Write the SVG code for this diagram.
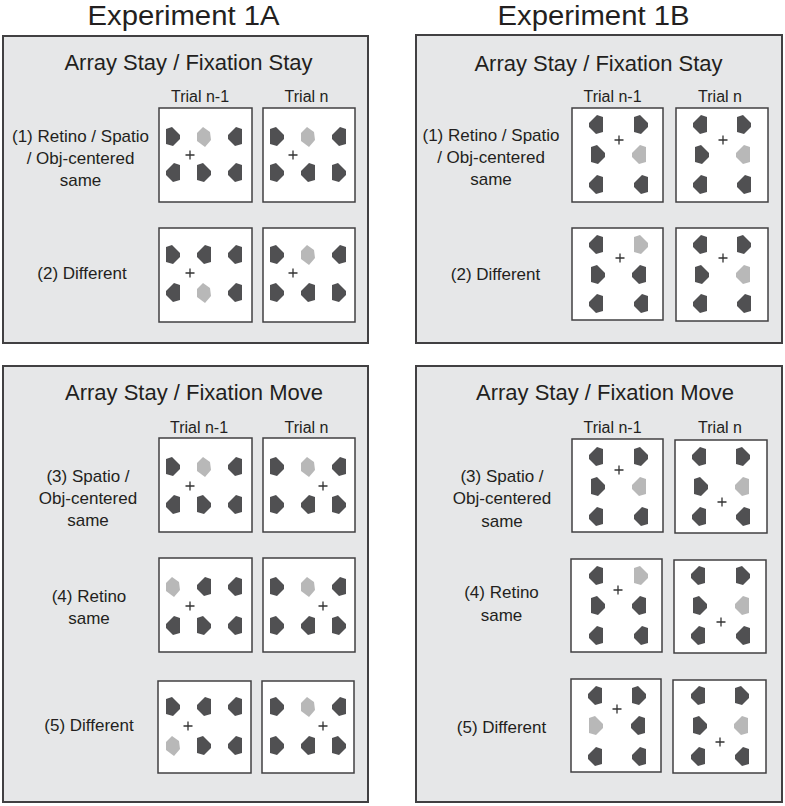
<svg xmlns="http://www.w3.org/2000/svg" xmlns:xlink="http://www.w3.org/1999/xlink" width="785" height="806" viewBox="0 0 785 806">
<style>
.bg{fill:#ffffff}
.panel{fill:#e6e7e8;stroke:#414042;stroke-width:2}
.box{fill:#ffffff;stroke:#414042;stroke-width:1.5}
.t{font-family:"Liberation Sans",Arial,sans-serif;fill:#231f20;text-anchor:middle}
.h1{font-size:27px}
.h2{font-size:22px}
.tr{font-size:16px}
.lb{font-size:17px}
.d{fill:#505052}
.l{fill:#b8b8b8}
.fx{stroke:#333333;stroke-width:1.3;fill:none}
</style>
<defs>
<polygon id="sR" points="-7,-8 -1,-10 7,-2 7,2 0,9 -7,7"/>
<polygon id="sL" points="7,-8 1,-10 -7,-2 -7,2 0,9 7,7"/>
<polygon id="sH" points="-1,-10 6,-5 7,3 1,10 -7,4 -7,-4"/>
<path id="fx" d="M-4.5,0 H4.5 M0,-4.5 V4.5"/>
</defs>
<rect class="bg" x="0" y="0" width="785" height="806"/>

<text class="t h1" x="183.5" y="25" textLength="192" lengthAdjust="spacingAndGlyphs">Experiment 1A</text>
<text class="t h1" x="593.5" y="25" textLength="192" lengthAdjust="spacingAndGlyphs">Experiment 1B</text>

<!-- Experiment 1A, Array Stay / Fixation Stay -->
<g id="panel-1A-stay">
<rect class="panel" x="3" y="36" width="365" height="307"/>
<text class="t h2" x="188.5" y="70">Array Stay / Fixation Stay</text>
<text class="t tr" x="200" y="101.5">Trial n-1</text>
<text class="t tr" x="306.5" y="101.5">Trial n</text>
<text class="t lb" x="80.5" y="142">(1) Retino / Spatio</text>
<text class="t lb" x="80.5" y="164">/ Obj-centered</text>
<text class="t lb" x="80.5" y="186">same</text>
<text class="t lb" x="82" y="279">(2) Different</text>
</g>
<g id="A1-prev" transform="translate(159,108)">
<rect class="box" x="0" y="0" width="93" height="94"/>
<use href="#sR" class="d" x="14" y="29"/><use href="#sH" class="l" x="45" y="29"/><use href="#sL" class="d" x="76" y="29"/>
<use href="#sL" class="d" x="14" y="65"/><use href="#sR" class="d" x="45" y="65"/><use href="#sL" class="d" x="76" y="65"/>
<use href="#fx" class="fx" x="31" y="47"/>
</g>
<g id="A1-cur" transform="translate(263,108)">
<rect class="box" x="0" y="0" width="92" height="94"/>
<use href="#sR" class="d" x="14" y="29"/><use href="#sH" class="l" x="45" y="29"/><use href="#sL" class="d" x="76" y="29"/>
<use href="#sR" class="d" x="14" y="65"/><use href="#sL" class="d" x="45" y="65"/><use href="#sR" class="d" x="76" y="65"/>
<use href="#fx" class="fx" x="30" y="47"/>
</g>
<g id="A2-prev" transform="translate(159,228)">
<rect class="box" x="0" y="0" width="93" height="94"/>
<use href="#sR" class="d" x="14" y="27"/><use href="#sL" class="d" x="45" y="27"/><use href="#sL" class="d" x="76" y="27"/>
<use href="#sL" class="d" x="14" y="65"/><use href="#sH" class="l" x="45" y="65"/><use href="#sL" class="d" x="76" y="65"/>
<use href="#fx" class="fx" x="31" y="45"/>
</g>
<g id="A2-cur" transform="translate(263,228)">
<rect class="box" x="0" y="0" width="92" height="94"/>
<use href="#sR" class="d" x="14" y="27"/><use href="#sH" class="l" x="45" y="27"/><use href="#sL" class="d" x="76" y="27"/>
<use href="#sR" class="d" x="14" y="65"/><use href="#sL" class="d" x="45" y="65"/><use href="#sR" class="d" x="76" y="65"/>
<use href="#fx" class="fx" x="30" y="45"/>
</g>

<!-- Experiment 1A, Array Stay / Fixation Move -->
<g id="panel-1A-move">
<rect class="panel" x="3" y="366" width="365" height="436"/>
<text class="t h2" x="194" y="400">Array Stay / Fixation Move</text>
<text class="t tr" x="199" y="433">Trial n-1</text>
<text class="t tr" x="306.5" y="433">Trial n</text>
<text class="t lb" x="88" y="482">(3) Spatio /</text>
<text class="t lb" x="88" y="504">Obj-centered</text>
<text class="t lb" x="88" y="526">same</text>
<text class="t lb" x="89" y="602">(4) Retino</text>
<text class="t lb" x="89" y="624">same</text>
<text class="t lb" x="89" y="731">(5) Different</text>
</g>
<g id="A3-prev" transform="translate(159,438)">
<rect class="box" x="0" y="0" width="93" height="94"/>
<use href="#sR" class="d" x="14" y="29"/><use href="#sH" class="l" x="45" y="29"/><use href="#sL" class="d" x="76" y="29"/>
<use href="#sL" class="d" x="14" y="67"/><use href="#sR" class="d" x="45" y="67"/><use href="#sL" class="d" x="76" y="67"/>
<use href="#fx" class="fx" x="31" y="48"/>
</g>
<g id="A3-cur" transform="translate(263,438)">
<rect class="box" x="0" y="0" width="92" height="94"/>
<use href="#sR" class="d" x="14" y="29"/><use href="#sH" class="l" x="45" y="29"/><use href="#sL" class="d" x="76" y="29"/>
<use href="#sR" class="d" x="14" y="67"/><use href="#sL" class="d" x="45" y="67"/><use href="#sR" class="d" x="76" y="67"/>
<use href="#fx" class="fx" x="60" y="48"/>
</g>
<g id="A4-prev" transform="translate(159,558)">
<rect class="box" x="0" y="0" width="93" height="94"/>
<use href="#sH" class="l" x="14" y="29"/><use href="#sL" class="d" x="45" y="29"/><use href="#sL" class="d" x="76" y="29"/>
<use href="#sL" class="d" x="14" y="68"/><use href="#sR" class="d" x="45" y="68"/><use href="#sL" class="d" x="76" y="68"/>
<use href="#fx" class="fx" x="31" y="48"/>
</g>
<g id="A4-cur" transform="translate(263,558)">
<rect class="box" x="0" y="0" width="92" height="94"/>
<use href="#sR" class="d" x="14" y="29"/><use href="#sH" class="l" x="45" y="29"/><use href="#sL" class="d" x="76" y="29"/>
<use href="#sR" class="d" x="14" y="68"/><use href="#sL" class="d" x="45" y="68"/><use href="#sR" class="d" x="76" y="68"/>
<use href="#fx" class="fx" x="60" y="48"/>
</g>
<g id="A5-prev" transform="translate(158,681)">
<rect class="box" x="0" y="0" width="93" height="92"/>
<use href="#sR" class="d" x="15" y="26"/><use href="#sL" class="d" x="46" y="26"/><use href="#sL" class="d" x="77" y="26"/>
<use href="#sH" class="l" x="15" y="65"/><use href="#sR" class="d" x="46" y="65"/><use href="#sL" class="d" x="77" y="65"/>
<use href="#fx" class="fx" x="30" y="45"/>
</g>
<g id="A5-cur" transform="translate(262,681)">
<rect class="box" x="0" y="0" width="92" height="92"/>
<use href="#sR" class="d" x="15" y="26"/><use href="#sH" class="l" x="46" y="26"/><use href="#sL" class="d" x="77" y="26"/>
<use href="#sR" class="d" x="15" y="65"/><use href="#sL" class="d" x="46" y="65"/><use href="#sR" class="d" x="77" y="65"/>
<use href="#fx" class="fx" x="61" y="45"/>
</g>

<!-- Experiment 1B, Array Stay / Fixation Stay -->
<g id="panel-1B-stay">
<rect class="panel" x="416" y="35" width="366" height="308"/>
<text class="t h2" x="598.5" y="71">Array Stay / Fixation Stay</text>
<text class="t tr" x="612.5" y="101.5">Trial n-1</text>
<text class="t tr" x="720" y="101.5">Trial n</text>
<text class="t lb" x="491" y="141">(1) Retino / Spatio</text>
<text class="t lb" x="491" y="163">/ Obj-centered</text>
<text class="t lb" x="491" y="185">same</text>
<text class="t lb" x="495.5" y="280">(2) Different</text>
</g>
<g id="B1-prev" transform="translate(572,108)">
<rect class="box" x="0" y="0" width="91" height="94"/>
<use href="#sL" class="d" x="24" y="17"/><use href="#sR" class="d" x="69" y="17"/>
<use href="#sR" class="d" x="26" y="47"/><use href="#sL" class="l" x="67" y="47"/>
<use href="#sL" class="d" x="24" y="77"/><use href="#sL" class="d" x="69" y="77"/>
<use href="#fx" class="fx" x="47" y="32"/>
</g>
<g id="B1-cur" transform="translate(676,108)">
<rect class="box" x="0" y="0" width="92" height="94"/>
<use href="#sL" class="d" x="24" y="17"/><use href="#sR" class="d" x="68" y="17"/>
<use href="#sR" class="d" x="26" y="47"/><use href="#sL" class="l" x="67" y="47"/>
<use href="#sL" class="d" x="24" y="77"/><use href="#sL" class="d" x="68" y="77"/>
<use href="#fx" class="fx" x="47" y="32"/>
</g>
<g id="B2-prev" transform="translate(572,228)">
<rect class="box" x="0" y="0" width="91" height="92"/>
<use href="#sL" class="d" x="24" y="17"/><use href="#sR" class="l" x="69" y="17"/>
<use href="#sR" class="d" x="26" y="47"/><use href="#sL" class="d" x="67" y="47"/>
<use href="#sL" class="d" x="24" y="76"/><use href="#sL" class="d" x="69" y="76"/>
<use href="#fx" class="fx" x="48" y="30"/>
</g>
<g id="B2-cur" transform="translate(676,228)">
<rect class="box" x="0" y="0" width="92" height="93"/>
<use href="#sL" class="d" x="24" y="17"/><use href="#sR" class="d" x="68" y="17"/>
<use href="#sR" class="d" x="26" y="47"/><use href="#sL" class="l" x="67" y="47"/>
<use href="#sL" class="d" x="24" y="76"/><use href="#sL" class="d" x="68" y="76"/>
<use href="#fx" class="fx" x="47" y="30"/>
</g>

<!-- Experiment 1B, Array Stay / Fixation Move -->
<g id="panel-1B-move">
<rect class="panel" x="416" y="366" width="366" height="436"/>
<text class="t h2" x="605" y="400">Array Stay / Fixation Move</text>
<text class="t tr" x="612.5" y="433">Trial n-1</text>
<text class="t tr" x="720" y="433">Trial n</text>
<text class="t lb" x="502" y="482">(3) Spatio /</text>
<text class="t lb" x="502" y="504">Obj-centered</text>
<text class="t lb" x="502" y="527">same</text>
<text class="t lb" x="501.5" y="598">(4) Retino</text>
<text class="t lb" x="501.5" y="621">same</text>
<text class="t lb" x="501.5" y="733">(5) Different</text>
</g>
<g id="B3-prev" transform="translate(572,439)">
<rect class="box" x="0" y="0" width="91" height="93"/>
<use href="#sL" class="d" x="24" y="18"/><use href="#sR" class="d" x="69" y="18"/>
<use href="#sR" class="d" x="26" y="48"/><use href="#sL" class="l" x="67" y="48"/>
<use href="#sL" class="d" x="24" y="78"/><use href="#sL" class="d" x="69" y="78"/>
<use href="#fx" class="fx" x="47" y="31"/>
</g>
<g id="B3-cur" transform="translate(675,440)">
<rect class="box" x="0" y="0" width="92" height="93"/>
<use href="#sL" class="d" x="24" y="17"/><use href="#sR" class="d" x="68" y="17"/>
<use href="#sR" class="d" x="26" y="47"/><use href="#sL" class="l" x="67" y="47"/>
<use href="#sL" class="d" x="24" y="77"/><use href="#sL" class="d" x="68" y="77"/>
<use href="#fx" class="fx" x="47" y="62"/>
</g>
<g id="B4-prev" transform="translate(571,559)">
<rect class="box" x="0" y="0" width="91" height="93"/>
<use href="#sL" class="d" x="25" y="17"/><use href="#sR" class="l" x="70" y="17"/>
<use href="#sR" class="d" x="27" y="47"/><use href="#sL" class="d" x="68" y="47"/>
<use href="#sL" class="d" x="25" y="77"/><use href="#sL" class="d" x="70" y="77"/>
<use href="#fx" class="fx" x="47" y="31"/>
</g>
<g id="B4-cur" transform="translate(674,560)">
<rect class="box" x="0" y="0" width="92" height="93"/>
<use href="#sL" class="d" x="24" y="16"/><use href="#sR" class="d" x="69" y="16"/>
<use href="#sR" class="d" x="26" y="46"/><use href="#sL" class="l" x="68" y="46"/>
<use href="#sL" class="d" x="24" y="76"/><use href="#sL" class="d" x="69" y="76"/>
<use href="#fx" class="fx" x="47" y="62"/>
</g>
<g id="B5-prev" transform="translate(571,679)">
<rect class="box" x="0" y="0" width="90" height="93"/>
<use href="#sL" class="d" x="24" y="17"/><use href="#sR" class="d" x="68" y="17"/>
<use href="#sR" class="l" x="25" y="47"/><use href="#sL" class="d" x="67" y="47"/>
<use href="#sL" class="d" x="24" y="78"/><use href="#sL" class="d" x="68" y="78"/>
<use href="#fx" class="fx" x="46" y="30"/>
</g>
<g id="B5-cur" transform="translate(673,680)">
<rect class="box" x="0" y="0" width="93" height="93"/>
<use href="#sL" class="d" x="25" y="16"/><use href="#sR" class="d" x="69" y="16"/>
<use href="#sR" class="d" x="27" y="46"/><use href="#sL" class="l" x="68" y="46"/>
<use href="#sL" class="d" x="25" y="77"/><use href="#sL" class="d" x="69" y="77"/>
<use href="#fx" class="fx" x="47" y="62"/>
</g>

<g id="connectors"></g>
</svg>
